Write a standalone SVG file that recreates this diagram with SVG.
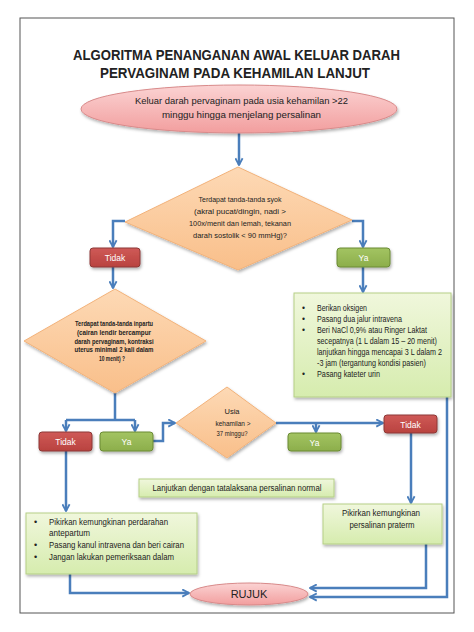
<svg xmlns="http://www.w3.org/2000/svg" width="474" height="632" viewBox="0 0 474 632">
<defs>
<linearGradient id="gPink" x1="0" y1="0" x2="0" y2="1"><stop offset="0" stop-color="#fbd3d3"/><stop offset="1" stop-color="#f29e9e"/></linearGradient>
<linearGradient id="gOrange" x1="0" y1="0" x2="0" y2="1"><stop offset="0" stop-color="#fdd9b5"/><stop offset="1" stop-color="#f9bf8a"/></linearGradient>
<linearGradient id="gGreen" x1="0" y1="0" x2="0" y2="1"><stop offset="0" stop-color="#f0f7dc"/><stop offset="1" stop-color="#d6ecae"/></linearGradient>
<linearGradient id="gRed" x1="0" y1="0" x2="0" y2="1"><stop offset="0" stop-color="#cf5a57"/><stop offset="1" stop-color="#b9423f"/></linearGradient>
<linearGradient id="gYa" x1="0" y1="0" x2="0" y2="1"><stop offset="0" stop-color="#a3c462"/><stop offset="1" stop-color="#8cae4b"/></linearGradient>
<filter id="sh" x="-10%" y="-10%" width="130%" height="140%"><feDropShadow dx="1" dy="2" stdDeviation="1.5" flood-color="#000" flood-opacity="0.3"/></filter>
<marker id="arr" viewBox="0 0 10 10" refX="8.5" refY="5" markerWidth="9" markerHeight="9" markerUnits="userSpaceOnUse" orient="auto">
<path d="M1,1 L8.5,5 L1,9" fill="none" stroke="#4a7ebb" stroke-width="2"/>
</marker>
<style>
.t{font-family:"Liberation Sans",Arial,sans-serif;fill:#222}
.c{text-anchor:middle}
.w{fill:#fff}
.ln{fill:none;stroke:#4a7ebb;stroke-width:2.5}
.red{fill:url(#gRed);stroke:#8c3836;stroke-width:1}
.ya{fill:url(#gYa);stroke:#6b8a35;stroke-width:1}
.grn{fill:url(#gGreen);stroke:#b5cf86;stroke-width:1}
.dia{fill:url(#gOrange);stroke:#f2b27a;stroke-width:1}
.ell{fill:url(#gPink);stroke:#d88a8a;stroke-width:1}
</style>
</defs>
<rect x="0" y="0" width="474" height="632" fill="#fff"/>
<rect x="20" y="18" width="434" height="595" fill="#fff" stroke="#555" stroke-width="1"/>

<g id="title">
<text class="t c" x="236.5" y="60" font-size="15" font-weight="bold" textLength="327" lengthAdjust="spacingAndGlyphs">ALGORITMA PENANGANAN AWAL KELUAR DARAH</text>
<text class="t c" x="235" y="78" font-size="15" font-weight="bold" textLength="270" lengthAdjust="spacingAndGlyphs">PERVAGINAM PADA KEHAMILAN LANJUT</text>
</g>

<g id="connectors">
<path class="ln" d="M239,133 V165" marker-end="url(#arr)"/>
<path class="ln" d="M125,221 H113 V247" marker-end="url(#arr)"/>
<path class="ln" d="M352,221 H363 V247" marker-end="url(#arr)"/>
<path class="ln" d="M113,267 V288" marker-end="url(#arr)"/>
<path class="ln" d="M363,267 V292" marker-end="url(#arr)"/>
<path class="ln" d="M115,393 V420 M66,420 H135"/>
<path class="ln" d="M66,420 V431" marker-end="url(#arr)"/>
<path class="ln" d="M135,420 V431" marker-end="url(#arr)"/>
<path class="ln" d="M153,441 H163 V423 H175" marker-end="url(#arr)"/>
<path class="ln" d="M276,423 H383" marker-end="url(#arr)"/>
<path class="ln" d="M316,423 V432" marker-end="url(#arr)"/>
<path class="ln" d="M411,433 V503" marker-end="url(#arr)"/>
<path class="ln" d="M66,451 V511" marker-end="url(#arr)"/>
<path class="ln" d="M447,397 V597 H310" marker-end="url(#arr)"/>
<path class="ln" d="M426,544 V588 H310" marker-end="url(#arr)"/>
<path class="ln" d="M70,574 V593 H189" marker-end="url(#arr)"/>
</g>

<g id="start">
<ellipse class="ell" cx="239" cy="109" rx="158" ry="24" filter="url(#sh)"/>
<text class="t c" x="241.5" y="104" font-size="9.5" textLength="213" lengthAdjust="spacingAndGlyphs">Keluar darah pervaginam pada usia kehamilan &gt;22</text>
<text class="t c" x="241.5" y="118" font-size="9.5" textLength="159" lengthAdjust="spacingAndGlyphs">minggu hingga menjelang persalinan</text>
</g>

<g id="d1">
<polygon class="dia" points="238,167 352,220 238,270 125,222" filter="url(#sh)"/>
<g class="t c" font-size="8">
<text x="240" y="202" textLength="83" lengthAdjust="spacingAndGlyphs">Terdapat tanda-tanda syok</text>
<text x="240" y="214" textLength="92" lengthAdjust="spacingAndGlyphs">(akral pucat/dingin, nadi &gt;</text>
<text x="240" y="226" textLength="102" lengthAdjust="spacingAndGlyphs">100x/menit dan lemah, tekanan</text>
<text x="240" y="238" textLength="94" lengthAdjust="spacingAndGlyphs">darah sostolik &lt; 90 mmHg)?</text>
</g>
</g>

<g id="tidak1">
<rect class="red" x="90" y="248" width="50" height="19" rx="3" filter="url(#sh)"/>
<text class="t c w" x="115" y="261" font-size="8.5">Tidak</text>
</g>

<g id="ya1">
<rect class="ya" x="337" y="248" width="53" height="19" rx="3" filter="url(#sh)"/>
<text class="t c w" x="363.5" y="261" font-size="8.5">Ya</text>
</g>

<g id="box-syok">
<rect class="grn" x="294" y="293" width="157" height="104" filter="url(#sh)"/>
<g class="t" font-size="8.5">
<text x="302" y="311">•</text><text x="317" y="311" textLength="50" lengthAdjust="spacingAndGlyphs">Berikan oksigen</text>
<text x="302" y="322">•</text><text x="317" y="322" textLength="85" lengthAdjust="spacingAndGlyphs">Pasang dua jalur intravena</text>
<text x="302" y="333">•</text><text x="317" y="333" textLength="110" lengthAdjust="spacingAndGlyphs">Beri NaCl 0,9% atau Ringer Laktat</text>
<text x="317" y="344" textLength="120" lengthAdjust="spacingAndGlyphs">secepatnya (1 L dalam 15 – 20 menit)</text>
<text x="317" y="355" textLength="125" lengthAdjust="spacingAndGlyphs">lanjutkan hingga mencapai 3 L dalam 2</text>
<text x="317" y="366" textLength="109" lengthAdjust="spacingAndGlyphs">-3 jam (tergantung kondisi pasien)</text>
<text x="302" y="377">•</text><text x="317" y="377" textLength="63" lengthAdjust="spacingAndGlyphs">Pasang kateter urin</text>
</g>
</g>

<g id="d2">
<polygon class="dia" points="115,289 206,341 115,393 24,341" filter="url(#sh)"/>
<g class="t c" font-size="7" font-weight="bold" fill="#333">
<text x="114" y="325.5" textLength="78" lengthAdjust="spacingAndGlyphs">Terdapat tanda-tanda inpartu</text>
<text x="114" y="335" textLength="74" lengthAdjust="spacingAndGlyphs">(cairan lendir bercampur</text>
<text x="114" y="343.5" textLength="79" lengthAdjust="spacingAndGlyphs">darah pervaginam, kontraksi</text>
<text x="114" y="351.5" textLength="79" lengthAdjust="spacingAndGlyphs">uterus minimal 2 kali dalam</text>
<text x="112" y="360.5" textLength="26" lengthAdjust="spacingAndGlyphs">10 menit) ?</text>
</g>
</g>

<g id="tidak2">
<rect class="red" x="39" y="432" width="53" height="19" rx="3" filter="url(#sh)"/>
<text class="t c w" x="65.5" y="445" font-size="8.5">Tidak</text>
</g>

<g id="ya2">
<rect class="ya" x="100" y="432" width="53" height="19" rx="3" filter="url(#sh)"/>
<text class="t c w" x="126.5" y="445" font-size="8.5">Ya</text>
</g>

<g id="d3">
<polygon class="dia" points="227,387 276,423 227,458 176,423" filter="url(#sh)"/>
<g class="t c" font-size="7.5">
<text x="232" y="413.5">Usia</text>
<text x="233" y="425.5" textLength="35" lengthAdjust="spacingAndGlyphs">kehamilan &gt;</text>
<text x="232" y="436" textLength="31" lengthAdjust="spacingAndGlyphs">37 minggu?</text>
</g>
</g>

<g id="ya3">
<rect class="ya" x="288" y="433" width="53" height="18" rx="3" filter="url(#sh)"/>
<text class="t c w" x="314.5" y="445.5" font-size="8.5">Ya</text>
</g>

<g id="tidak3">
<rect class="red" x="384" y="415" width="53" height="18" rx="3" filter="url(#sh)"/>
<text class="t c w" x="410.5" y="427.5" font-size="8.5">Tidak</text>
</g>

<g id="box-normal">
<rect class="grn" x="139" y="479" width="195" height="18" filter="url(#sh)"/>
<text class="t c" x="237" y="491" font-size="8.5" textLength="169" lengthAdjust="spacingAndGlyphs">Lanjutkan dengan tatalaksana persalinan normal</text>
</g>

<g id="box-praterm">
<rect class="grn" x="323" y="504" width="119" height="40" filter="url(#sh)"/>
<text class="t c" x="381" y="516" font-size="8.5" textLength="78" lengthAdjust="spacingAndGlyphs">Pikirkan kemungkinan</text>
<text class="t c" x="382" y="528" font-size="8.5" textLength="65" lengthAdjust="spacingAndGlyphs">persalinan praterm</text>
</g>

<g id="box-antepartum">
<rect class="grn" x="26" y="513" width="171" height="61" filter="url(#sh)"/>
<g class="t" font-size="9">
<text x="34" y="525">•</text><text x="49" y="525" textLength="119" lengthAdjust="spacingAndGlyphs">Pikirkan kemungkinan perdarahan</text>
<text x="49" y="536" textLength="41" lengthAdjust="spacingAndGlyphs">antepartum</text>
<text x="34" y="548">•</text><text x="49" y="548" textLength="135" lengthAdjust="spacingAndGlyphs">Pasang kanul intravena dan beri cairan</text>
<text x="34" y="560">•</text><text x="49" y="560" textLength="125" lengthAdjust="spacingAndGlyphs">Jangan lakukan pemeriksaan dalam</text>
</g>
</g>

<g id="rujuk">
<ellipse class="ell" cx="249" cy="594" rx="59" ry="11" filter="url(#sh)"/>
<text class="t c" x="249" y="598" font-size="11">RUJUK</text>
</g>
</svg>
